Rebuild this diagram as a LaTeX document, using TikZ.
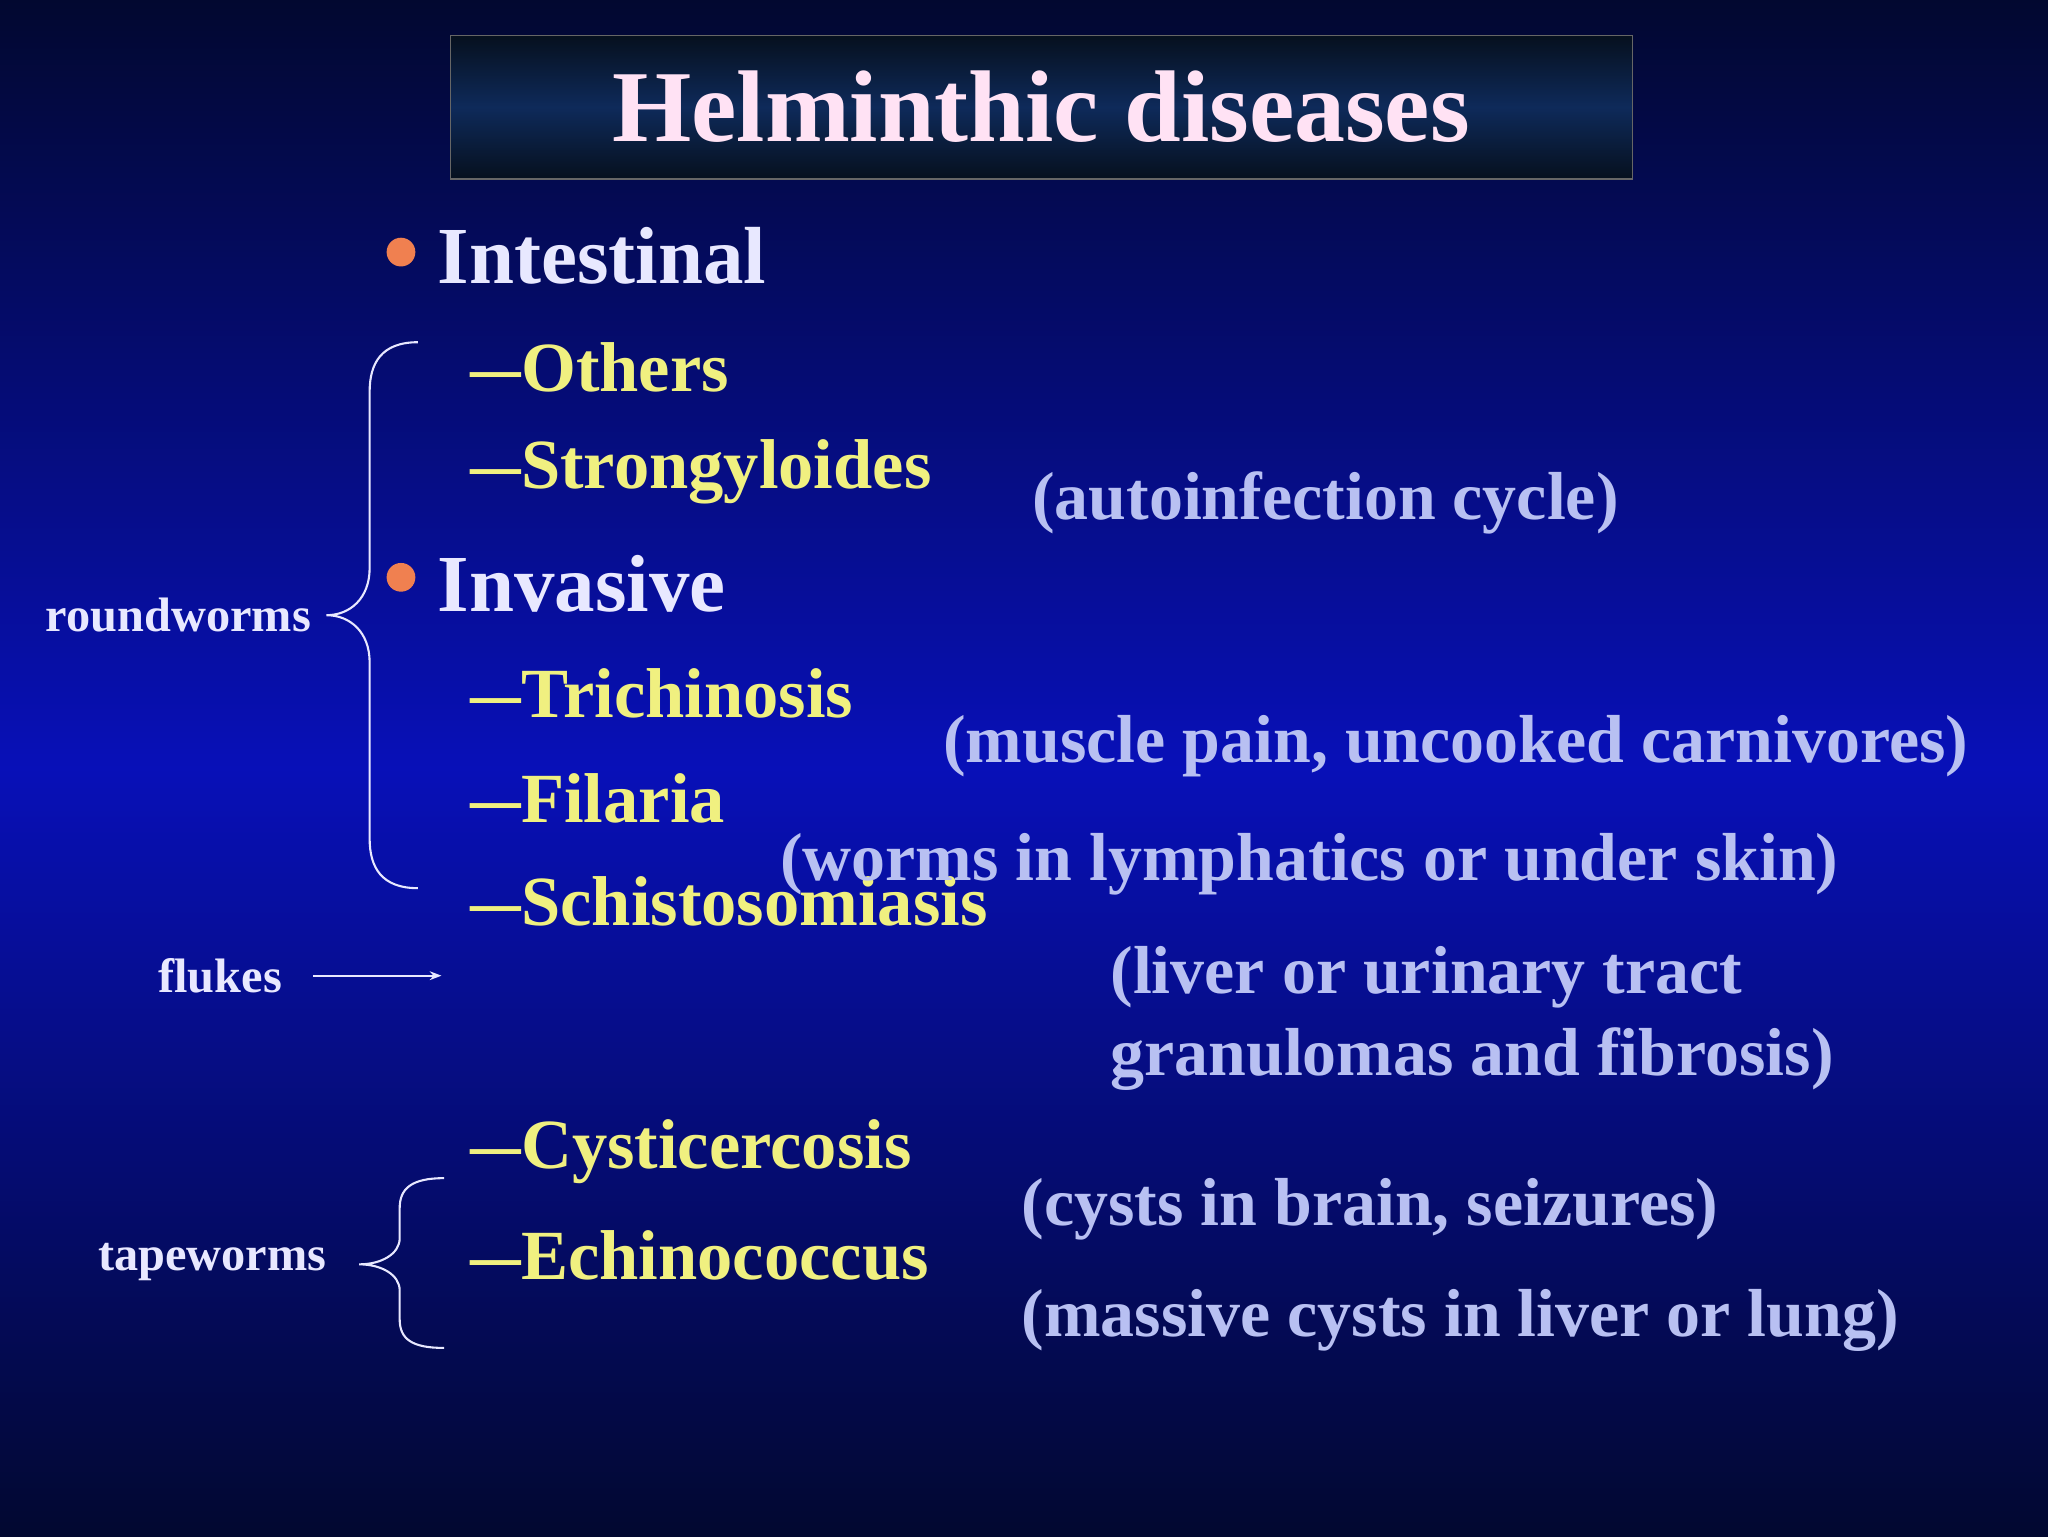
\documentclass[tikz,border=0pt]{standalone}
\usepackage{fontspec}
\setmainfont{Liberation Serif}
\usetikzlibrary{arrows.meta}
\definecolor{bgdark}{HTML}{020830}
\definecolor{bgmid}{HTML}{0810B8}
\definecolor{titlec}{HTML}{FFE2F4}
\definecolor{ylw}{HTML}{F0F080}
\definecolor{lav}{HTML}{B8C0F2}
\definecolor{whl}{HTML}{E8E8FF}
\definecolor{orng}{HTML}{F08050}
\definecolor{tdark}{HTML}{06101E}
\definecolor{tmid}{HTML}{0E2A5A}
\newcommand{\dsh}{\scalebox{0.72}[1]{—}}
\tikzset{
 head/.style={anchor=west,text=whl,font=\bfseries\fontsize{62}{64}\selectfont,inner sep=0pt},
 item/.style={anchor=west,text=ylw,font=\bfseries\fontsize{54}{56}\selectfont,inner sep=0pt},
 note/.style={anchor=west,text=lav,font=\bfseries\fontsize{52}{54}\selectfont,inner sep=0pt},
 side/.style={anchor=west,text=whl,font=\bfseries\fontsize{37}{40}\selectfont,inner sep=0pt},
 brc/.style={draw=whl,line width=1.6pt},
}
\begin{document}
\begin{tikzpicture}[x=1pt,y=-1pt]
\useasboundingbox (0,0) rectangle (1568,1176);
\shade[top color=bgdark,bottom color=bgmid] (0,0) rectangle (1568,588);
\shade[top color=bgmid,bottom color=bgdark] (0,588) rectangle (1568,1176);
\shade[top color=tdark,bottom color=tdark,middle color=tmid] (345,27) rectangle (1250,137);
\draw[black!60,line width=1pt] (345,27) rectangle (1250,137);
\node[text=titlec,font=\bfseries\fontsize{78}{80}\selectfont] (title) at (797,82) {Helminthic diseases};
\fill[orng] (307,193) circle (11);
\node[head] (intest) at (335,196) {Intestinal};
\node[item] (others) at (360,281) {\dsh Others};
\node[item] (strong) at (360,361) {\dsh Strongyloides};
\node[note] (auto) at (790,385) {(autoinfection cycle)};
\fill[orng] (307,442) circle (11);
\node[head] (inv) at (335,447) {Invasive};
\node[item] (trich) at (360,531) {\dsh Trichinosis};
\node[item] (fil) at (360,611) {\dsh Filaria};
\node[item] (schis) at (360,690) {\dsh Schistosomiasis};
\node[note] (muscle) at (722,571) {(muscle pain, uncooked carnivores)};
\node[note] (worms) at (597,662) {(worms in lymphatics or under skin)};
\node[note] (liver) at (850,748) {(liver or urinary tract};
\node[note] (gran) at (850,811) {granulomas and fibrosis)};
\node[item] (cyst) at (360,882) {\dsh Cysticercosis};
\node[item] (echin) at (360,961) {\dsh Echinococcus};
\node[note] (brain) at (782,926) {(cysts in brain, seizures)};
\node[note] (massive) at (782,1011) {(massive cysts in liver or lung)};
\node[side] (round) at (35,471) {roundworms};
\node[side] (flukes) at (121,747) {flukes};
\node[side] (tape) at (75,966) {tapeworms};
\coordinate (fl1) at (240,747);
\coordinate (fl2) at (338,747);
\draw[whl,line width=1.6pt,-{Stealth[length=9pt]}] (fl1) -- (fl2);
\draw[brc] (320,262) .. controls (292,262) and (283,278) .. (283,300) -- (283,435)
  .. controls (283,458) and (268,471) .. (250,471)
  .. controls (268,471) and (283,484) .. (283,507) -- (283,642)
  .. controls (283,664) and (292,680) .. (320,680);
\draw[brc] (340,902) .. controls (315,902) and (306,910) .. (306,925) -- (306,948)
  .. controls (306,960) and (292,968) .. (275,968)
  .. controls (292,968) and (306,976) .. (306,988) -- (306,1010)
  .. controls (306,1025) and (315,1032) .. (340,1032);
\end{tikzpicture}
\end{document}
